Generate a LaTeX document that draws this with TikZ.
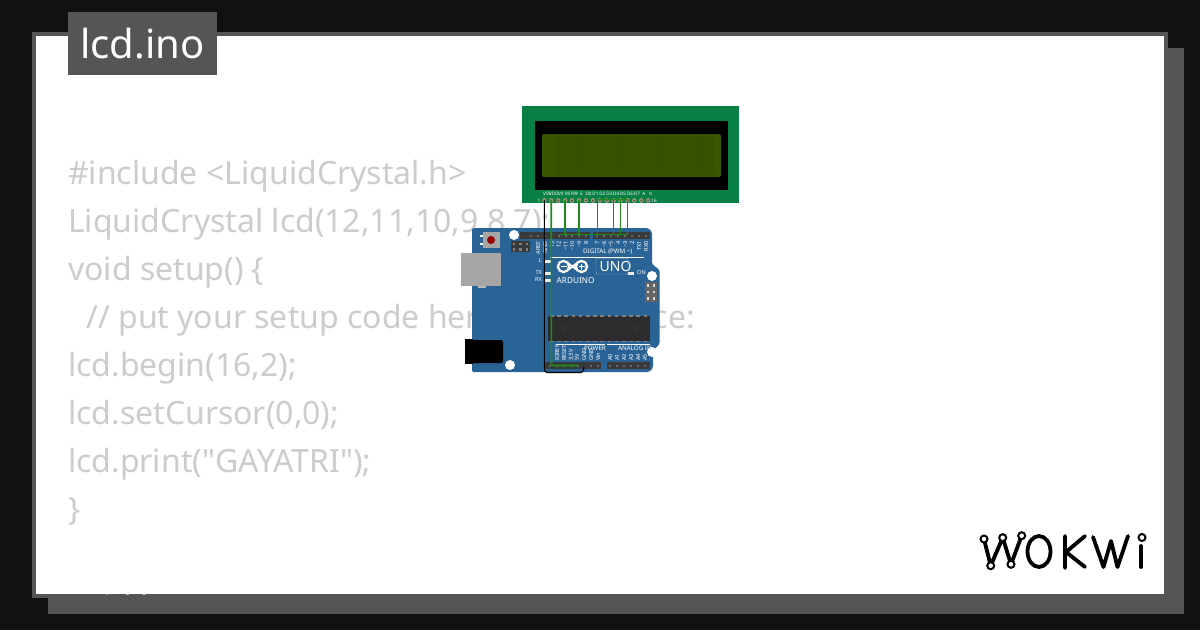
\documentclass[tikz,border=0pt]{standalone}
\usepackage{fontspec}
\setmainfont{Noto Sans}
\newfontfamily\codefont{Noto Sans}
\usetikzlibrary{positioning}
\definecolor{pagebg}{HTML}{111111}
\definecolor{cardgrey}{HTML}{555555}
\definecolor{codegrey}{HTML}{CCCCCC}
\definecolor{lcdgreen}{HTML}{087F45}
\definecolor{lcdglass}{HTML}{3A5500}
\definecolor{lcdcell}{HTML}{365100}
\definecolor{lcdpin}{HTML}{A09870}
\definecolor{unoblue}{HTML}{2A6496}
\definecolor{wiregreen}{HTML}{1E8A1E}
\definecolor{headergrey}{HTML}{3A3A3A}
\tikzset{
	codeline/.style={anchor=base west,inner sep=0pt,text=codegrey,font=\codefont\fontsize{32}{32}\selectfont},
	tiny/.style={inner sep=0pt,text=white,font=\fontsize{5.5}{5.5}\selectfont},
	lcdlabel/.style={inner sep=0pt,text=white,font=\fontsize{4.6}{4.6}\selectfont},
	pinlabel/.style={tiny,rotate=90,anchor=east,font=\fontsize{5.6}{5.6}\bfseries\selectfont},
	hole/.style={circle,fill=white,inner sep=0pt,minimum size=#1},
	wirea/.style={draw=wiregreen,line width=1.7pt},
	wireb/.style={draw=black,line width=1.1pt},
	logoline/.style={line width=3.8pt,line cap=round,line join=round},
	logoring/.style={circle,draw=black,fill=white,line width=2pt,inner sep=0pt,minimum size=7pt}
}
\begin{document}
\begin{tikzpicture}[x=1pt,y=-1pt]
\useasboundingbox (0,0) rectangle (1200,630);
\fill[pagebg] (0,0) rectangle (1200,630);
\fill[cardgrey] (48,48) rectangle (1184,614);
\fill[cardgrey] (32,32) rectangle (1168,598);
\fill[white] (36,36) rectangle (1164,594);
% code behind the board
\begin{scope}
\clip (36,36) rectangle (1164,594);
\node[codeline] (line1) at (68,184) {\#include <LiquidCrystal.h>};
\node[codeline] (line2) at (68,232) {LiquidCrystal lcd(12,11,10,9,8,7);};
\node[codeline] (line3) at (68,280) {void setup() \{};
\node[codeline] (line4) at (86,328) {// put your setup code here, to run once:};
\node[codeline] (line5) at (68,376) {lcd.begin(16,2);};
\node[codeline] (line6) at (68,424) {lcd.setCursor(0,0);};
\node[codeline] (line7) at (68,472) {lcd.print("GAYATRI");};
\node[codeline] (line8) at (68,520) {\}};
\node[codeline] (line9) at (68,618) {void loop() \{};
\end{scope}
\fill[cardgrey] (68,12) rectangle (217,75);
\node[anchor=base west,inner sep=0pt,text=white,font=\fontsize{40}{40}\selectfont] (title) at (80,58) {lcd.ino};
% lcd
\fill[lcdgreen] (522,106) rectangle (739,203);
\fill[black] (535,121) rectangle (728,190);
\fill[lcdglass,rounded corners=2pt] (542,134) rectangle (721,177);
\foreach \i in {0,...,15}
	\fill[lcdcell] (555+\i*10,136) rectangle +(8.6,39);
\foreach \i in {1,...,16} {
	\fill[lcdpin] (544.4+\i*6.92-6.92,200.4) circle (2.3);
	\fill[black!70] (544.4+\i*6.92-6.92,200.4) circle (1);
	\coordinate (lcd\i) at (544.4+\i*6.92-6.92,200.4);
}
\foreach \i/\t in {1/VSS,2/VDD,3/V0,4/RS,5/RW,6/E,7/D0,8/D1,9/D2,10/D3,11/D4,12/D5,13/D6,14/D7,15/A,16/K}
	\node[lcdlabel] (lab\i) at (547+\i*6.92-6.92,194) {\t};
\node[lcdlabel] (one) at (539,200.4) {1};
\node[lcdlabel] (sixteen) at (654,200.4) {16};
% uno board
\fill[unoblue,rounded corners=1.5pt] (472,228) -- (648,228) -- (652,232) -- (652,264) -- (659.5,270) -- (659.5,344) -- (653,351) -- (653,368) -- (649,372) -- (472,372) -- cycle;
\fill[gray!70] (461,253) rectangle (501,286);
\fill[gray!55] (478,286) rectangle (486,288);
\fill[black] (465,339) rectangle (473,364);
\fill[black,rounded corners=1.5pt] (470,340) rectangle (503,363);
\fill[gray!70] (483,232) rectangle (500,248);
\fill[white] (480,235) rectangle (483,237);
\fill[white] (480,243) rectangle (483,245);
\fill[red!60!black] (491,240) circle (4);
\node[hole=10pt] (holea) at (514,235) {};
\node[hole=10pt] (holeb) at (652,276) {};
\node[hole=10pt] (holec) at (652,352) {};
\node[hole=10pt] (holed) at (510,365) {};
% headers
\fill[headergrey] (520,232) rectangle (590,239);
\fill[headergrey] (593,232) rectangle (650,239);
\fill[headergrey] (545,362) rectangle (601,369);
\fill[headergrey] (607,362) rectangle (650,369);
\foreach \i/\x in {aref/531,gnd/538,d13/545,d12/558.6,d11/565.5,d10/572,d9/579,d8/586,d7/597,d6/604,d5/611,d4/618,d3/625,d2/632,d1/639,d0/646} {
	\fill[gray!80!black] (\x-1,234.6) rectangle +(2,2);
	\coordinate (uno\i) at (\x,234.4);
}
\foreach \i/\x in {n1/550,ioref/557,reset/564,vt/571,vf/577.5,gnda/584,gndb/591,vin/598,a0/610,a1/617,a2/624,a3/631,a4/638,a5/645} {
	\fill[gray!80!black] (\x-1,364.6) rectangle +(2,2);
	\coordinate (uno\i) at (\x,365.4);
}
\fill[headergrey] (511,241) rectangle (530,252);
\foreach \x in {514,520.5,527}
	\foreach \y in {243.7,249.3}
		\fill[gray] (\x-1.2,\y-1.2) rectangle +(2.4,2.4);
\fill[gray!80!black] (645,282) rectangle (657,302);
\foreach \x in {648,654}
	\foreach \y in {285.5,292,298.5}
		\fill[gray!30] (\x-1.2,\y-1.2) rectangle +(2.4,2.4);
% pin texts
\foreach \t/\x in {AREF/538,GND/545,13/552,12/558.6,\textasciitilde11/565.5,\textasciitilde10/572,\textasciitilde9/579,8/586,7/597,\textasciitilde6/604,\textasciitilde5/611,4/618,\textasciitilde3/625,2/632,TX1/639,RX0/646}
	\node[pinlabel] at (\x,241) {\t};
\foreach \t/\x in {IOREF/557,RESET/564,3.3V/571,5V/577,GND/584,GND/591,Vin/598,A0/610,A1/617,A2/624,A3/631,A4/638,A5/645}
	\node[tiny,rotate=90,anchor=west,font=\fontsize{5.6}{5.6}\bfseries\selectfont] at (\x,361) {\t};
\node[tiny,anchor=west,font=\fontsize{6.2}{6.2}\bfseries\selectfont] (digital) at (583,252) {DIGITAL (PWM \textasciitilde)};
\node[tiny,anchor=west,font=\fontsize{6.2}{6.2}\bfseries\selectfont] (power) at (584,348) {POWER};
\node[tiny,anchor=west,font=\fontsize{6.2}{6.2}\bfseries\selectfont] (analog) at (618,348) {ANALOG IN};
\draw[white,line width=.5pt] (550,257) -- (644,257);
\draw[white,line width=.5pt] (556,344) -- (605,344);
\draw[white,line width=.5pt] (607,344) -- (650,344);
% leds
\foreach \y in {261,273,280}
	\fill[white!85!gray] (545,\y-1.5) rectangle +(6,3);
\fill[white!85!gray] (628,271.5) rectangle +(6,3);
\node[tiny,anchor=east] (ledl) at (542,261) {L};
\node[tiny,anchor=east] (ledtx) at (542,273) {TX};
\node[tiny,anchor=east] (ledrx) at (542,280) {RX};
\node[tiny,anchor=west] (ledon) at (637,273) {ON};
% logo
\draw[white,line width=2.2pt] (563.5,266.5) circle (5.6) (581.5,266.5) circle (5.6);
\draw[white,line width=1.8pt] (568,263) -- (577,270) (568,270) -- (577,263);
\draw[white,line width=1pt] (560.5,266.5) -- (566.5,266.5) (578.5,266.5) -- (584.5,266.5) (581.5,263.5) -- (581.5,269.5);
\node[tiny,anchor=west,font=\fontsize{8.2}{8.2}\bfseries\selectfont] (arduino) at (556.5,281) {ARDUINO};
\node[tiny,anchor=west,font=\fontsize{14}{14}\selectfont] (uno) at (599.5,266.5) {UNO};
\draw[white!50!unoblue,line width=.4pt,rounded corners=1pt] (596,258.5) rectangle (628,274);
% chip
\fill[headergrey!75!black] (548,316) rectangle (650,341);
\foreach \i in {0,...,13} {
	\fill[gray] (550+\i*7.2,315) rectangle +(3.5,1.5);
	\fill[gray] (550+\i*7.2,340.5) rectangle +(3.5,1.5);
}
\fill[black!80] (563,328.5) circle (2.6);
\fill[black!80] (635,328.5) circle (2.6);
% wires
\draw[wireb,rounded corners=3pt] (lcd1) -- (544.4,372.5) -- (583.5,372.5) -- (unognda);
\draw[wirea,rounded corners=1pt] (lcd2) -- (551.4,365.4) -- (unovf);
\draw[wirea] (lcd4) |- (unod12);
\draw[wirea] (lcd6) |- (unod11);
\coordinate (bus) at (597.5,199.6);
\draw[wirea] (bus) -- (lcd13 |- bus) -- (lcd13);
\draw[wirea] (unod10) -| (bus);
\draw[wirea] (lcd11 |- bus) -- (lcd11 |- unod9) -- (unod9);
\draw[wirea] (lcd12 |- bus) -- (lcd12 |- unod8) -- (unod8);
\draw[wirea] (lcd13 |- bus) -- (lcd13 |- unod7) -- (unod7);
% wokwi mark
\coordinate (wa) at (984,539);
\coordinate (wb) at (990.7,565.7);
\coordinate (wc) at (1002.7,537.7);
\coordinate (wd) at (1011,564.3);
\coordinate (we) at (1021.7,535.7);
\draw[logoline] (wa) -- (wb) -- (wc) -- (wd) -- (we);
\node[logoring] (ra) at (wa) {};
\node[logoring] (rb) at (wb) {};
\node[logoring] (rc) at (wc) {};
\node[logoring] (rd) at (wd) {};
\node[logoring] (re) at (we) {};
\draw[logoline] (1039,551.5) ellipse (11.5 and 15.5);
\draw[logoline] (1065,536) -- (1065,568) (1085,536) -- (1066,552) -- (1085,567);
\draw[logoline] (1093,537) -- (1103.5,567) -- (1111,541) -- (1117.5,567) -- (1128,536);
\draw[logoline] (1141,546) -- (1141,567);
\node[logoring] (ri) at (1142,537.5) {};
\end{tikzpicture}
\end{document}
